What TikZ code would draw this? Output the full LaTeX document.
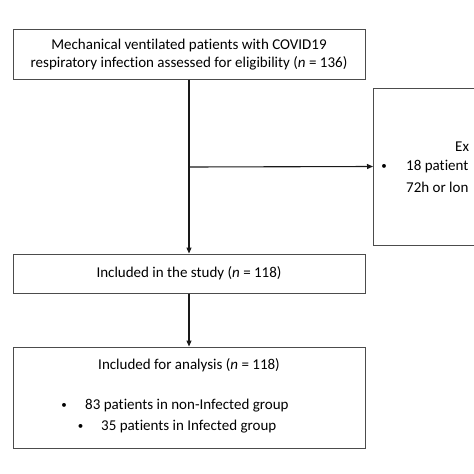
\documentclass[tikz,border=0pt]{standalone}
\usepackage{fontspec}
\setmainfont{Carlito}[Ligatures={NoCommon}]
\usetikzlibrary{arrows.meta}
\begin{document}
\begin{tikzpicture}[x=1pt,y=-1pt,
  box/.style={draw=black!70,line width=1pt,inner sep=0pt},
  txt/.style={font=\fontsize{15}{18}\selectfont,inner sep=0pt,text=black},
  bul/.style={font=\fontsize{11}{13}\selectfont,inner sep=0pt,text=black},
  arr/.style={-{Triangle[length=6pt,width=5pt]},line width=1.1pt,black!90}]
\clip (0,0) rectangle (474,474);
\fill[white] (0,0) rectangle (474,474);
% boxes
\node[box,minimum width=352pt,minimum height=50pt] (top) at (189,54) {};
\node[box,minimum width=352pt,minimum height=39pt] (inc) at (189,273.5) {};
\node[box,minimum width=352pt,minimum height=101pt] (ana) at (189,397.5) {};
\node[box,minimum width=200pt,minimum height=157pt,anchor=west] (exc) at (373,166.5) {};
% texts
\node[txt,align=center] (t1) at (189,55) {Mechanical ventilated patients with COVID19\\respiratory infection assessed for eligibility (\textit{n} = 136)};
\node[txt] (t2) at (189,273) {Included in the study (\textit{n} = 118)};
\node[txt] (t3) at (189,365) {Included for analysis (\textit{n} = 118)};
\node[bul] (b1) at (64,406) {•};
\node[txt,anchor=west] (l1) at (85,406) {83 patients in non-Infected group};
\node[bul] (b2) at (80.5,427) {•};
\node[txt,anchor=west] (l2) at (101,427) {35 patients in Infected group};
\node[txt,anchor=west] (e0) at (455,147) {Ex};
\node[bul] (eb) at (384,167) {•};
\node[txt,anchor=west] (e1) at (406,167) {18 patient};
\node[txt,anchor=west] (e2) at (406,187) {72h or lon};
% connectors
\coordinate (j) at (189,167);
\draw[arr] (top.south) -- (inc.north);
\draw[arr] (j) -- (exc.west);
\draw[arr] (inc.south) -- (ana.north);
\end{tikzpicture}
\end{document}
